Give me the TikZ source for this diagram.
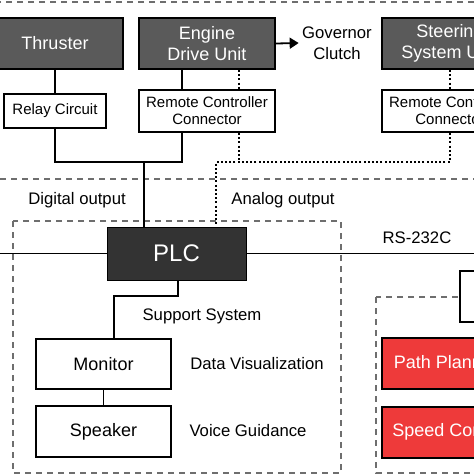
\documentclass[tikz,border=0pt]{standalone}
\usepackage{fontspec}
\setmainfont{Liberation Sans}
\usetikzlibrary{arrows.meta}
\definecolor{unitgray}{HTML}{5A5A5A}
\definecolor{plcgray}{HTML}{333333}
\definecolor{modred}{HTML}{EE3A3A}
\definecolor{zonegray}{HTML}{6E6E6E}

\begin{document}
\begin{tikzpicture}[x=1pt,y=-1pt,
  unit/.style={draw=black,line width=2pt,fill=unitgray,text=white,minimum width=136pt,minimum height=51pt,inner sep=0pt,align=center,font=\fontsize{18}{21}\selectfont},
  conn/.style={draw=black,line width=2pt,fill=white,minimum height=42pt,inner sep=0pt,align=center,font=\fontsize{15}{17}\selectfont},
  dev/.style={draw=black,line width=2pt,fill=white,minimum width=135pt,minimum height=50pt,inner sep=0pt,font=\fontsize{18}{21}\selectfont},
  module/.style={draw=black,line width=2pt,fill=modred,text=white,minimum width=136pt,minimum height=51pt,inner sep=0pt,font=\fontsize{18}{21}\selectfont},
  lbl/.style={align=center,font=\fontsize{16.7}{21}\selectfont},
  wire/.style={draw=black,line width=1.8pt},
  sig/.style={draw=black,line width=2pt,dash pattern=on 2pt off 2.2pt},
  zone/.style={draw=zonegray,line width=1.5pt,dash pattern=on 6pt off 5pt}]
  \useasboundingbox (0,0) rectangle (474,474);
  \clip (0,0) rectangle (474,474);

  % dashed zones
  \draw[zone] (-10,2) rectangle (484,179);
  \draw[zone] (13,221) rectangle (341,473);
  \draw[zone] (376,297) rectangle (560,473);

  % drive units
  \node[unit] (th) at (55,43.5) {Thruster};
  \node[unit] (edu) at (207,43.5) {Engine\\Drive Unit};
  \node[unit] (ssu) at (450,43.5) {Steering\\System Unit};
  \node[lbl] (gc) at (337,43) {Governor\\Clutch};

  \node[conn,minimum width=102pt,minimum height=34pt] (rc) at (55,111) {Relay Circuit};
  \node[conn,minimum width=136pt] (rcc1) at (207,111) {Remote Controller\\Connector};
  \node[conn,minimum width=136pt] (rcc2) at (450,111) {Remote Controller\\Connector};

  \node[lbl] (dig) at (77,200) {Digital output};
  \node[lbl] (ana) at (283,200) {Analog output};

  \node[draw=black,line width=1pt,fill=plcgray,text=white,minimum width=139pt,minimum height=53pt,inner sep=0pt,font=\fontsize{24}{28}\selectfont] (plc) at (176.5,253.5) {PLC};
  \node[lbl] (rs) at (417,238) {RS-232C};

  % support system
  \node[lbl] (sup) at (202,316) {Support System};
  \node[dev] (mon) at (103.5,364) {Monitor};
  \node[dev,minimum height=51pt] (spk) at (103.5,431.5) {Speaker};
  \node[lbl] (dv) at (257,364) {Data Visualization};
  \node[lbl] (vg) at (248,431) {Voice Guidance};

  % control modules
  \node[dev,minimum width=120pt,minimum height=51pt] (ext) at (520,296.5) {};
  \node[module] (pp) at (450,363.5) {Path Planning};
  \node[module] (sc) at (450,432) {Speed Control};

  % junctions
  \coordinate (dout) at (144,162);
  \coordinate (aout) at (216,162);
  \coordinate (sbus) at (114,296);
  \coordinate (lend) at (-5,254);
  \coordinate (rend) at (480,254);

  % digital wiring
  \draw[wire] (th.south) -- (rc.north);
  \draw[wire] ([xshift=-25pt]edu.south) -- ([xshift=-25pt]rcc1.north);
  \draw[wire] (rc.south) -- (rc.south |- dout) -| ([xshift=-25pt]rcc1.south);
  \draw[wire] (dout) -- (dout |- plc.north);
  \draw[wire,-{Triangle[length=9pt,width=11pt]}] (edu.east) -- (gc.west);

  % analog wiring
  \draw[sig] ([xshift=32pt]edu.south) -- ([xshift=32pt]rcc1.north);
  \draw[sig] ([xshift=32pt]rcc1.south) -- ([xshift=32pt]rcc1.south |- aout);
  \draw[sig] (ssu.south) -- (rcc2.north);
  \draw[sig] (rcc2.south) -- (rcc2.south |- aout) -- (aout) -- (aout |- plc.north);

  % serial line and support wiring
  \draw[wire] (plc.west) -- (plc.west -| lend);
  \draw[wire] (plc.east) -- (plc.east -| rend);
  \draw[wire] ([xshift=1.5pt]plc.south) |- (sbus) -- (sbus |- mon.north);
  \draw[wire] (mon.south) -- (spk.north);
\end{tikzpicture}
\end{document}
